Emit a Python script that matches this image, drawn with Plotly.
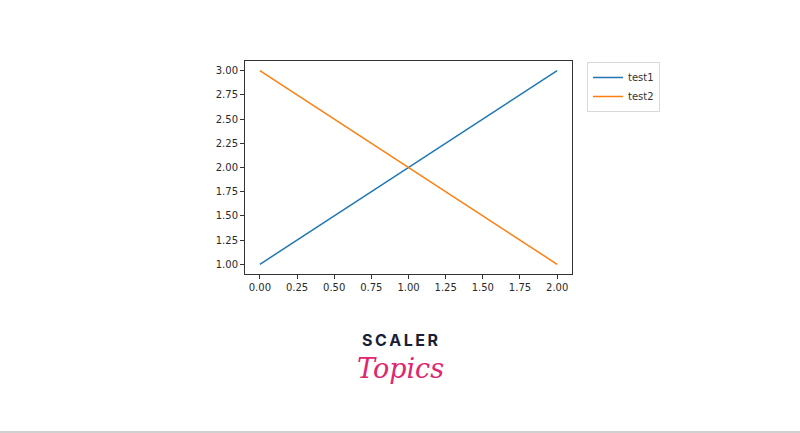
import plotly.graph_objects as go

x_vals = [0, 1, 2]
test1 = [1, 2, 3]
test2 = [3, 2, 1]
x_ticks = [0.0, 0.25, 0.5, 0.75, 1.0, 1.25, 1.5, 1.75, 2.0]
y_ticks = [1.0, 1.25, 1.5, 1.75, 2.0, 2.25, 2.5, 2.75, 3.0]

fig = go.Figure()
fig.add_trace(go.Scatter(x=x_vals, y=test1, mode="lines", name="test1",
                         line=dict(color="#1f77b4", width=1.5)))
fig.add_trace(go.Scatter(x=x_vals, y=test2, mode="lines", name="test2",
                         line=dict(color="#ff7f0e", width=1.5)))

W, H = 800, 433
L, R, T, B = 245, 572, 61, 274
pw, ph = R - L, B - T

axis_common = dict(showgrid=False, zeroline=False, showline=True, mirror=True,
                   linecolor="#333333", linewidth=1, ticks="outside", ticklen=4,
                   tickcolor="#333333", tickfont=dict(family="DejaVu Sans", size=10, color="#2a2a2a"))

fig.update_xaxes(range=[-0.1, 2.1], tickvals=x_ticks,
                 ticktext=[f"{v:.2f}" for v in x_ticks], **axis_common)
fig.update_yaxes(range=[0.9, 3.1], tickvals=y_ticks,
                 ticktext=[f"{v:.2f}" for v in y_ticks], **axis_common)

fig.update_layout(
    width=W, height=H,
    margin=dict(l=L, r=W - R, t=T, b=H - B),
    plot_bgcolor="white", paper_bgcolor="white",
    showlegend=True,
    legend=dict(x=(587 - L) / pw, y=(B - 62) / ph, xanchor="left", yanchor="top",
                bordercolor="#d8d8d8", borderwidth=1, bgcolor="white",
                font=dict(family="DejaVu Sans", size=10, color="#333333"),
                tracegroupgap=0, itemwidth=30),
    annotations=[
        dict(text="<b>S\u2009C\u2009A\u2009L\u2009E\u2009R</b>", x=(400 - L) / pw, y=(B - 340) / ph,
             xref="paper", yref="paper",
             showarrow=False, font=dict(family="Inter", size=16, color="#1a1f36"),
             xanchor="center", yanchor="middle"),
        dict(text="<i>Topics</i>", x=(400 - L) / pw, y=(B - 368) / ph, xref="paper", yref="paper",
             showarrow=False, font=dict(family="DejaVu Serif", size=27, color="#e0266f"),
             xanchor="center", yanchor="middle"),
    ],
    shapes=[
        dict(type="line", xref="paper", yref="paper",
             x0=-L / pw, x1=(W - L) / pw, y0=(B - 432) / ph, y1=(B - 432) / ph,
             line=dict(color="#c0c0c0", width=1.5)),
    ],
)

fig.write_html("out.html", config={"displayModeBar": False},
               post_script="document.body.style.margin='0';document.body.style.overflow='hidden';")
